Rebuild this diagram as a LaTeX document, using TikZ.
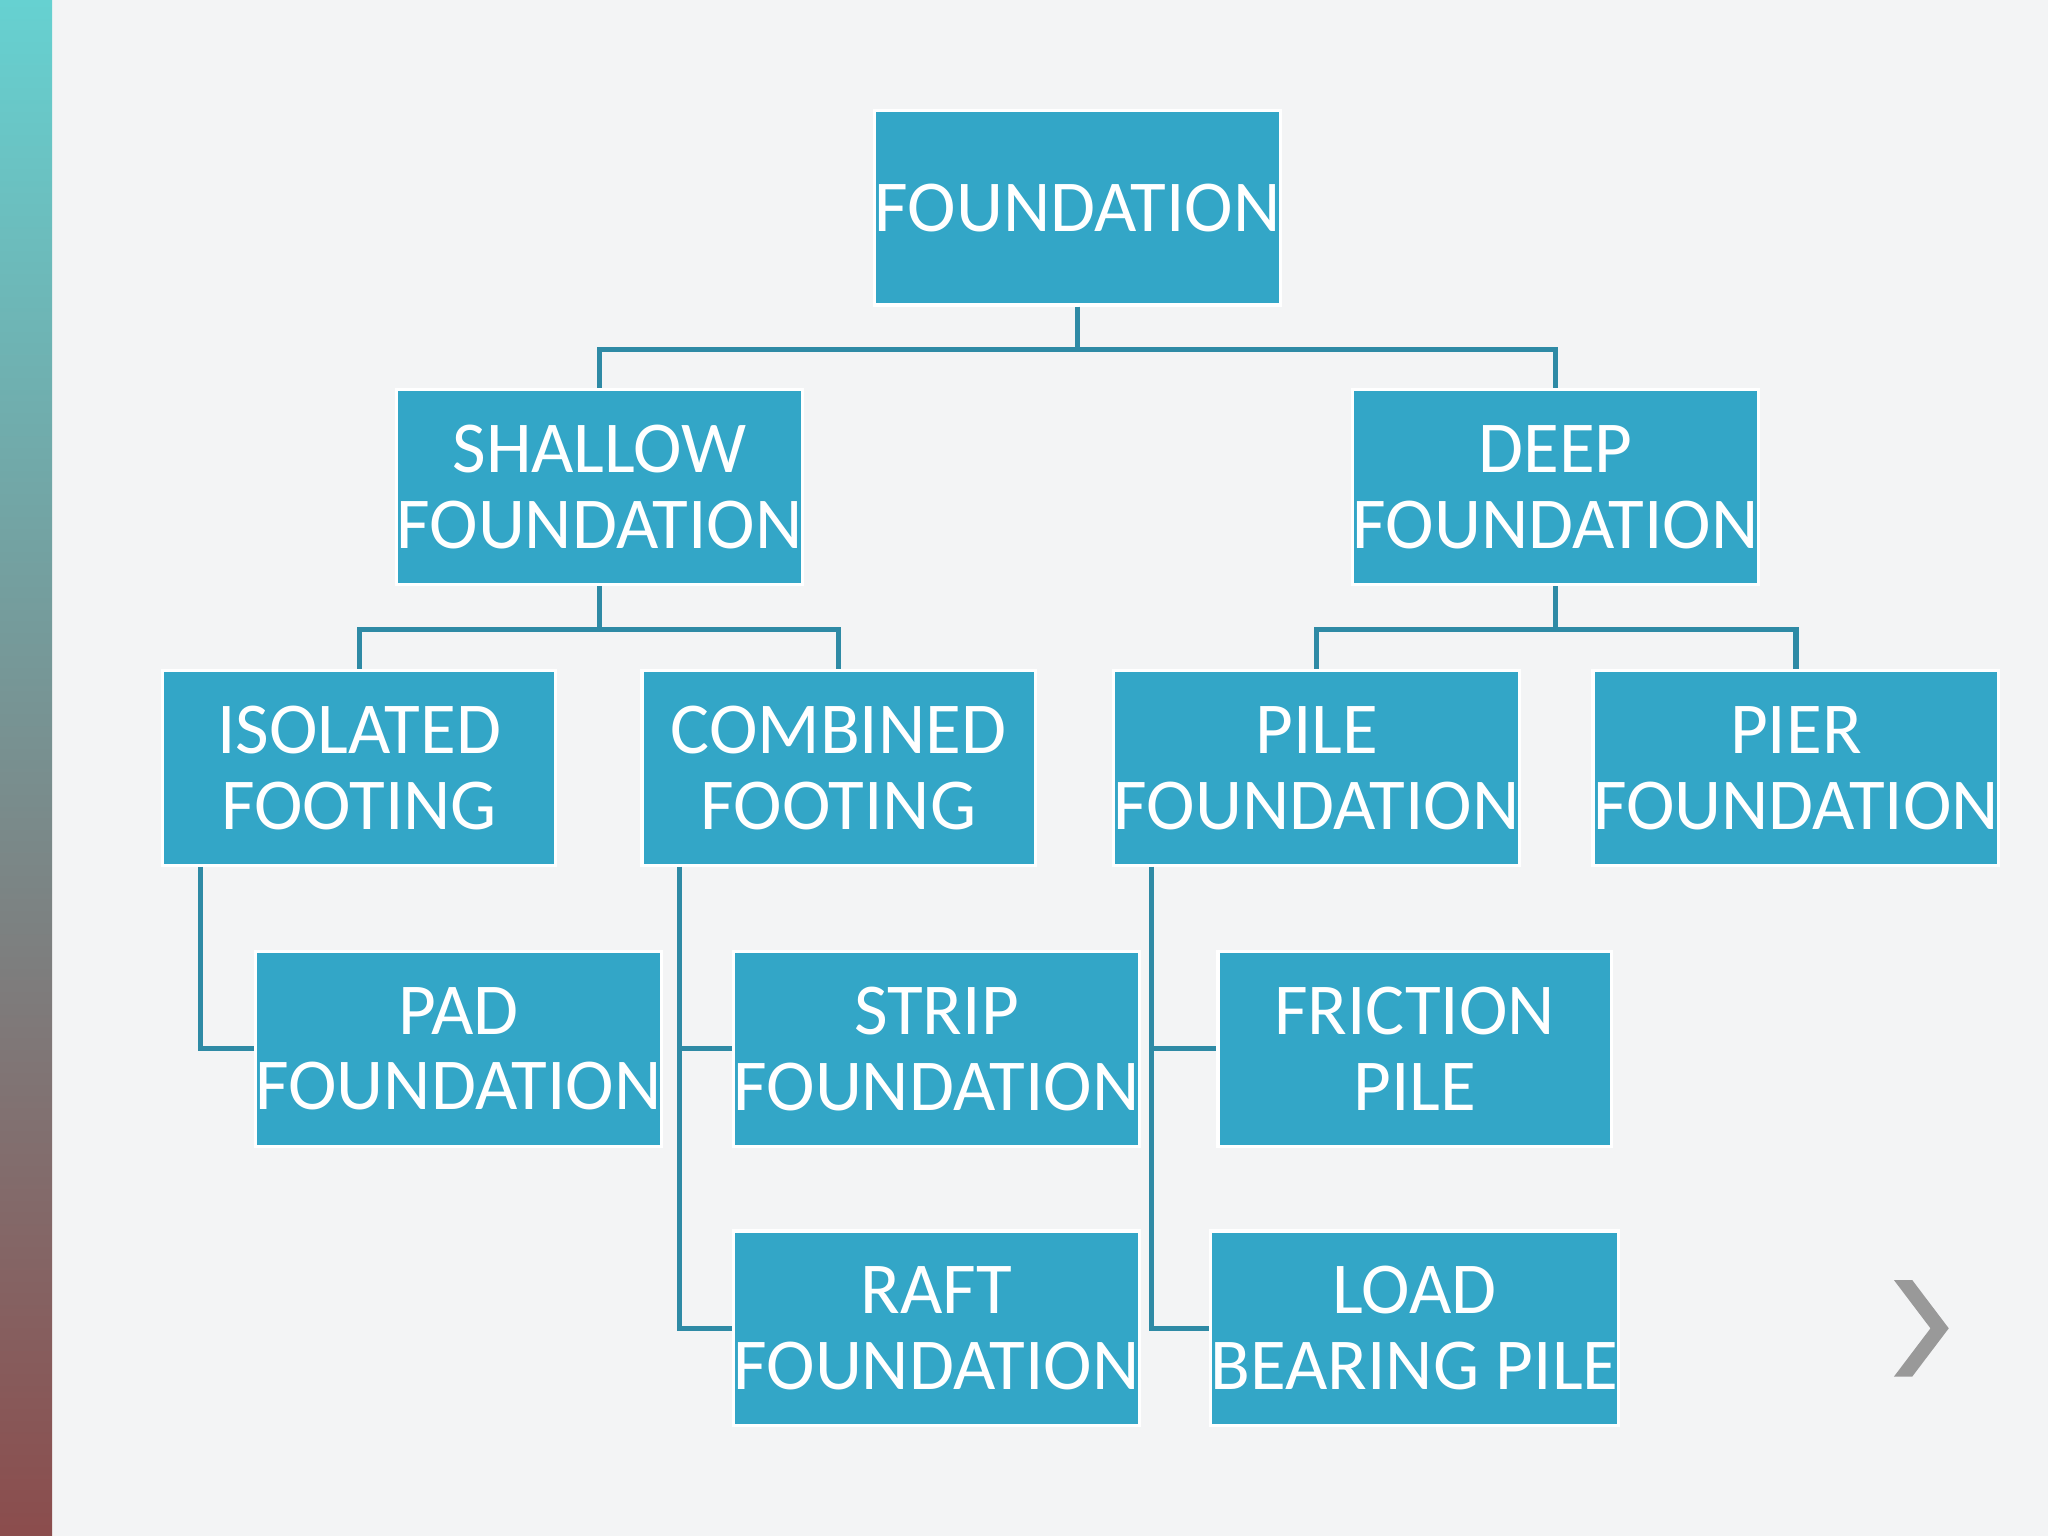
\documentclass[tikz,border=0pt]{standalone}
\usepackage{fontspec}
\setmainfont{Carlito}
\definecolor{boxfill}{HTML}{33A6C7}
\definecolor{linec}{HTML}{2E8AA5}
\definecolor{bg}{HTML}{F3F4F5}
\tikzset{
 fbox/.style={draw=white,line width=1.2pt,fill=boxfill,text=white,align=center,
   minimum width=150.5pt,minimum height=74.5pt,inner sep=0pt,
   font=\fontsize{28}{29}\selectfont},
 conn/.style={draw=linec,line width=2pt}
}
\begin{document}
\begin{tikzpicture}[x=0.5pt,y=-0.5pt]
\useasboundingbox (0,0) rectangle (1568,1176);
\fill[bg] (0,0) rectangle (1568,1176);
\shade[top color=cyan!40!teal!60,bottom color=red!35!black!70] (0,0) rectangle (40,1176);
\node[fbox] (f) at (825,159) {FOUNDATION};
\node[fbox] (s) at (459,373) {SHALLOW\\FOUNDATION};
\node[fbox] (d) at (1191,373) {DEEP\\FOUNDATION};
\node[fbox] (iso) at (275,588) {ISOLATED\\FOOTING};
\node[fbox] (com) at (642,588) {COMBINED\\FOOTING};
\node[fbox] (pile) at (1008,588) {PILE\\FOUNDATION};
\node[fbox] (pier) at (1375,588) {PIER\\FOUNDATION};
\node[fbox] (pad) at (351,803) {PAD\\FOUNDATION};
\node[fbox] (strip) at (717,803) {STRIP\\FOUNDATION};
\node[fbox] (fric) at (1083,803) {FRICTION\\PILE};
\node[fbox] (raft) at (717,1017) {RAFT\\FOUNDATION};
\node[fbox] (load) at (1083,1017) {LOAD\\BEARING PILE};
\draw[conn] (f.south) -- ++(0,33) -| (s.north);
\draw[conn] (f.south) ++(0,33) -| (d.north);
\draw[conn] (s.south) -- ++(0,33) -| (iso.north);
\draw[conn] (s.south) ++(0,33) -| (com.north);
\draw[conn] (d.south) -- ++(0,33) -| (pile.north);
\draw[conn] (d.south) ++(0,33) -| (pier.north);
\draw[conn] (iso.south west) ++(30,0) |- (pad.west);
\draw[conn] (com.south west) ++(30,0) |- (raft.west);
\draw[conn] (com.south west) ++(30,0) |- (strip.west);
\draw[conn] (pile.south west) ++(30,0) |- (load.west);
\draw[conn] (pile.south west) ++(30,0) |- (fric.west);
\fill[gray!80] (1450,980) -- (1464,980) -- (1492,1017) -- (1464,1054) -- (1450,1054) -- (1478,1017) -- cycle;
\end{tikzpicture}
\end{document}
